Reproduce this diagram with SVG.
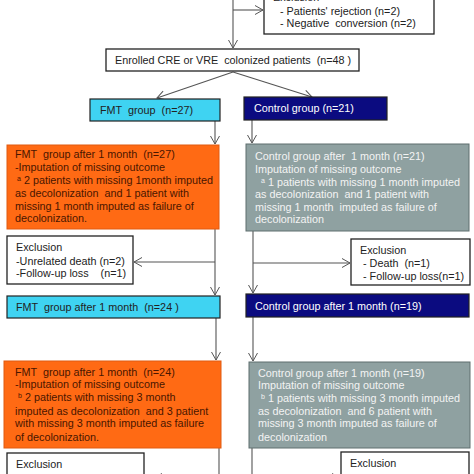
<svg xmlns="http://www.w3.org/2000/svg" width="474" height="474" viewBox="0 0 474 474" xml:space="preserve">
<defs>
<marker id="arr" markerUnits="userSpaceOnUse" markerWidth="12" markerHeight="12" refX="8.5" refY="5" orient="auto">
<path d="M0.5,0.5 L8.5,5 L0.5,9.5" fill="none" stroke="#555" stroke-width="1"/>
</marker>
<style>
text{font-family:"Liberation Sans",Arial,sans-serif;font-size:10.8px;white-space:pre;}
.w{fill:#fff;stroke:#222;stroke-width:1.3;}
.cy{fill:#3fd3f2;stroke:#222;stroke-width:1.2;}
.nv{fill:#0b0b80;stroke:#222;stroke-width:1.2;}
.or{fill:#ff6a14;stroke:#e05a10;stroke-width:1;}
.gr{fill:#8fa1a1;stroke:#5e6e6e;stroke-width:1;}
.k{fill:#222;}
.wt{fill:#fff;}
.ot{fill:#4a1600;}
.gt{fill:#f3f3f3;}
.ln{stroke:#555;stroke-width:1.1;fill:none;}
.sup{font-size:7px;}
</style>
</defs>

<g id="connectors">
<line class="ln" x1="233" y1="0" x2="233" y2="48" marker-end="url(#arr)"/>
<line class="ln" x1="233" y1="10" x2="263" y2="10" marker-end="url(#arr)"/>
<line class="ln" x1="233" y1="72" x2="157" y2="98" marker-end="url(#arr)"/>
<line class="ln" x1="233" y1="72" x2="312" y2="97" marker-end="url(#arr)"/>
<line class="ln" x1="215" y1="121" x2="215" y2="144" marker-end="url(#arr)"/>
<line class="ln" x1="252" y1="120" x2="252" y2="143" marker-end="url(#arr)"/>
<line class="ln" x1="215" y1="229" x2="215" y2="295" marker-end="url(#arr)"/>
<line class="ln" x1="215" y1="262" x2="134" y2="262" marker-end="url(#arr)"/>
<line class="ln" x1="253" y1="231" x2="253" y2="293" marker-end="url(#arr)"/>
<line class="ln" x1="253" y1="263" x2="350" y2="263" marker-end="url(#arr)"/>
<line class="ln" x1="216" y1="318" x2="216" y2="360" marker-end="url(#arr)"/>
<line class="ln" x1="253" y1="317" x2="253" y2="361" marker-end="url(#arr)"/>
<line class="ln" x1="219" y1="448" x2="219" y2="480"/>
<line class="ln" x1="219" y1="478" x2="154" y2="478" marker-end="url(#arr)"/>
<line class="ln" x1="252" y1="448" x2="252" y2="480"/>
<line class="ln" x1="252" y1="478" x2="340" y2="478" marker-end="url(#arr)"/>
</g>

<g id="excl-top">
<rect class="w" x="264" y="-10" width="170" height="44"/>
<text class="k" x="273" y="1">Exclusion</text>
<text class="k" x="280" y="15">- Patients' rejection (n=2)</text>
<text class="k" x="280" y="27">- Negative  conversion (n=2)</text>
</g>

<g id="enrolled">
<rect class="w" x="106" y="49" width="253" height="22"/>
<text class="k" x="115" y="64">Enrolled CRE or VRE  colonized patients  (n=48 )</text>
</g>

<g id="fmt-group">
<rect class="cy" x="90" y="99" width="130" height="22"/>
<text class="k" x="100" y="114">FMT  group  (n=27)</text>
</g>

<g id="control-group">
<rect class="nv" x="244" y="97" width="143" height="23"/>
<text class="wt" x="254" y="112">Control group (n=21)</text>
</g>

<g id="fmt-1m">
<rect class="or" x="7" y="145" width="212" height="84"/>
<text class="ot" x="15" y="158">FMT  group after 1 month  (n=27)</text>
<text class="ot" x="15" y="171">-Imputation of missing outcome</text>
<text class="ot" x="17" y="184"><tspan class="sup" baseline-shift="super">a</tspan> 2 patients with missing 1month imputed</text>
<text class="ot" x="15" y="196.5">as decolonization  and 1 patient with</text>
<text class="ot" x="15" y="209.5">missing 1 month imputed as failure of</text>
<text class="ot" x="15" y="222">decolonization.</text>
</g>

<g id="control-1m">
<rect class="gr" x="246" y="144" width="223" height="87"/>
<text class="gt" x="255" y="160">Control group after  1 month (n=21)</text>
<text class="gt" x="255" y="173">Imputation of missing outcome</text>
<text class="gt" x="255" y="185.5">  <tspan class="sup" baseline-shift="super">a</tspan> 1 patients with missing 1 month imputed</text>
<text class="gt" x="255" y="198">as decolonization  and 1 patient with</text>
<text class="gt" x="255" y="210.5">missing 1 month  imputed as failure of</text>
<text class="gt" x="255" y="223">decolonization</text>
</g>

<g id="excl-fmt-1">
<rect class="w" x="7" y="236" width="126" height="48"/>
<text class="k" x="16" y="251">Exclusion</text>
<text class="k" x="16" y="265">-Unrelated death (n=2)</text>
<text class="k" x="16" y="277">-Follow-up loss    (n=1)</text>
</g>

<g id="excl-ctrl-1">
<rect class="w" x="351" y="239" width="119" height="46"/>
<text class="k" x="360" y="254">Exclusion</text>
<text class="k" x="360" y="267"> - Death  (n=1)</text>
<text class="k" x="360" y="280"> - Follow-up loss(n=1)</text>
</g>

<g id="fmt-24">
<rect class="cy" x="7" y="296" width="213" height="22"/>
<text class="k" x="16" y="311">FMT  group after 1 month  (n=24 )</text>
</g>

<g id="control-19">
<rect class="nv" x="246" y="294" width="223" height="23"/>
<text class="wt" x="255" y="310">Control group after 1 month (n=19)</text>
</g>

<g id="fmt-3m">
<rect class="or" x="4" y="361" width="217" height="87"/>
<text class="ot" x="15" y="376">FMT  group after 1 month  (n=24)</text>
<text class="ot" x="15" y="388">-Imputation of missing outcome</text>
<text class="ot" x="15" y="401"> <tspan class="sup" baseline-shift="super">b</tspan> 2 patients with missing 3 month</text>
<text class="ot" x="15" y="415">imputed as decolonization  and 3 patient</text>
<text class="ot" x="15" y="427">with missing 3 month imputed as failure</text>
<text class="ot" x="15" y="440.5">of decolonization.</text>
</g>

<g id="control-3m">
<rect class="gr" x="249" y="362" width="221" height="86"/>
<text class="gt" x="258" y="377">Control group after 1 month (n=19)</text>
<text class="gt" x="258" y="389">Imputation of missing outcome</text>
<text class="gt" x="258" y="402"> <tspan class="sup" baseline-shift="super">b</tspan> 1 patients with missing 3 month imputed</text>
<text class="gt" x="258" y="415">as decolonization  and 6 patient with</text>
<text class="gt" x="258" y="427">missing 3 month imputed as failure of</text>
<text class="gt" x="258" y="440.5">decolonization</text>
</g>

<g id="excl-fmt-2">
<rect class="w" x="7" y="453" width="137" height="40"/>
<text class="k" x="16" y="468">Exclusion</text>
</g>

<g id="excl-ctrl-2">
<rect class="w" x="341" y="452" width="128" height="40"/>
<text class="k" x="350" y="467">Exclusion</text>
</g>
</svg>
